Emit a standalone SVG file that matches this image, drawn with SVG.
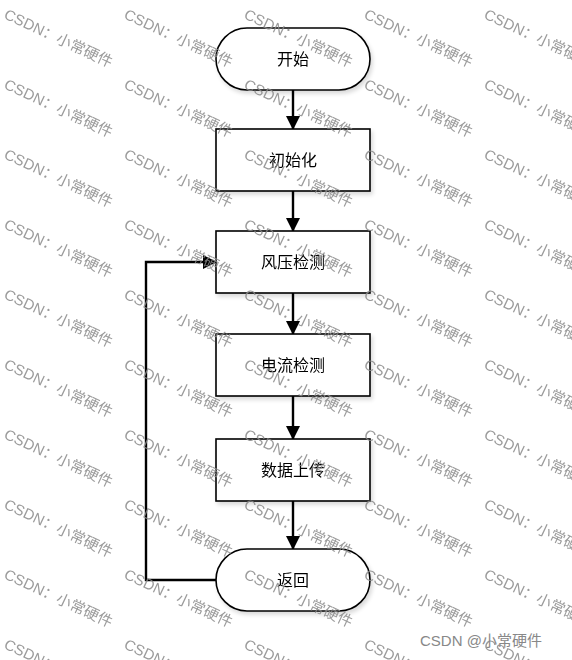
<svg xmlns="http://www.w3.org/2000/svg" xmlns:xlink="http://www.w3.org/1999/xlink" width="572" height="660" viewBox="0 0 572 660">
<style>
.n{fill:#fff;stroke:#000;stroke-width:1.6}
.t{font-family:"Liberation Sans","Noto Sans CJK SC",sans-serif;font-size:16px;fill:#000;text-anchor:middle;dominant-baseline:central}
.c{fill:none;stroke:#000;stroke-width:2.4}
.w{font-family:"Liberation Sans","Noto Sans CJK SC",sans-serif;font-size:15px;fill:#8a8a8a;opacity:0.85}
</style>
<defs>
<marker id="ah" markerWidth="14" markerHeight="14" viewBox="0 0 14 14" refX="13" refY="7" orient="auto" markerUnits="userSpaceOnUse">
<path d="M0,0 L14,7 L0,14 Z" fill="#000"/>
</marker>
<filter id="sh" x="-10%" y="-10%" width="130%" height="130%">
<feGaussianBlur in="SourceAlpha" stdDeviation="2"/>
<feOffset dx="2" dy="3"/>
<feComponentTransfer><feFuncA type="linear" slope="0.15"/></feComponentTransfer>
<feMerge><feMergeNode/><feMergeNode in="SourceGraphic"/></feMerge>
</filter>
<text id="wm" class="w" transform="rotate(25)">CSDN：小常硬件</text>
</defs>
<rect width="572" height="660" fill="#fff"/>
<g id="connectors">
<line class="c" x1="293" y1="90" x2="293" y2="129" marker-end="url(#ah)"/>
<line class="c" x1="293" y1="191" x2="293" y2="231" marker-end="url(#ah)"/>
<line class="c" x1="293" y1="293" x2="293" y2="334" marker-end="url(#ah)"/>
<line class="c" x1="293" y1="396" x2="293" y2="439" marker-end="url(#ah)"/>
<line class="c" x1="293" y1="501" x2="293" y2="549" marker-end="url(#ah)"/>
<polyline class="c" points="216,580 146,580 146,262 216,262" marker-end="url(#ah)"/>
</g>
<g id="start" filter="url(#sh)"><rect class="n" x="216" y="28" width="154" height="62" rx="31"/><text class="t" x="293" y="59">开始</text></g>
<g id="init" filter="url(#sh)"><rect class="n" x="216" y="129" width="154" height="62"/><text class="t" x="293" y="160">初始化</text></g>
<g id="wind" filter="url(#sh)"><rect class="n" x="216" y="231" width="154" height="62"/><text class="t" x="293" y="262">风压检测</text></g>
<g id="current" filter="url(#sh)"><rect class="n" x="216" y="334" width="154" height="62"/><text class="t" x="293" y="365">电流检测</text></g>
<g id="upload" filter="url(#sh)"><rect class="n" x="216" y="439" width="154" height="62"/><text class="t" x="293" y="470">数据上传</text></g>
<g id="return" filter="url(#sh)"><rect class="n" x="216" y="549" width="154" height="62" rx="31"/><text class="t" x="293" y="580">返回</text></g>
<g id="watermark">
<use xlink:href="#wm" x="3" y="18"/><use xlink:href="#wm" x="123" y="18"/><use xlink:href="#wm" x="243" y="18"/><use xlink:href="#wm" x="363" y="18"/><use xlink:href="#wm" x="483" y="18"/>
<use xlink:href="#wm" x="3" y="88"/><use xlink:href="#wm" x="123" y="88"/><use xlink:href="#wm" x="243" y="88"/><use xlink:href="#wm" x="363" y="88"/><use xlink:href="#wm" x="483" y="88"/>
<use xlink:href="#wm" x="3" y="158"/><use xlink:href="#wm" x="123" y="158"/><use xlink:href="#wm" x="243" y="158"/><use xlink:href="#wm" x="363" y="158"/><use xlink:href="#wm" x="483" y="158"/>
<use xlink:href="#wm" x="3" y="228"/><use xlink:href="#wm" x="123" y="228"/><use xlink:href="#wm" x="243" y="228"/><use xlink:href="#wm" x="363" y="228"/><use xlink:href="#wm" x="483" y="228"/>
<use xlink:href="#wm" x="3" y="298"/><use xlink:href="#wm" x="123" y="298"/><use xlink:href="#wm" x="243" y="298"/><use xlink:href="#wm" x="363" y="298"/><use xlink:href="#wm" x="483" y="298"/>
<use xlink:href="#wm" x="3" y="368"/><use xlink:href="#wm" x="123" y="368"/><use xlink:href="#wm" x="243" y="368"/><use xlink:href="#wm" x="363" y="368"/><use xlink:href="#wm" x="483" y="368"/>
<use xlink:href="#wm" x="3" y="438"/><use xlink:href="#wm" x="123" y="438"/><use xlink:href="#wm" x="243" y="438"/><use xlink:href="#wm" x="363" y="438"/><use xlink:href="#wm" x="483" y="438"/>
<use xlink:href="#wm" x="3" y="508"/><use xlink:href="#wm" x="123" y="508"/><use xlink:href="#wm" x="243" y="508"/><use xlink:href="#wm" x="363" y="508"/><use xlink:href="#wm" x="483" y="508"/>
<use xlink:href="#wm" x="3" y="578"/><use xlink:href="#wm" x="123" y="578"/><use xlink:href="#wm" x="243" y="578"/><use xlink:href="#wm" x="363" y="578"/><use xlink:href="#wm" x="483" y="578"/>
<use xlink:href="#wm" x="3" y="648"/><use xlink:href="#wm" x="123" y="648"/><use xlink:href="#wm" x="243" y="648"/><use xlink:href="#wm" x="363" y="648"/><use xlink:href="#wm" x="483" y="648"/>
</g>
<text x="420" y="646" style="font-family:'Liberation Sans','Noto Sans CJK SC',sans-serif;font-size:15px;fill:#888">CSDN @小常硬件</text>
</svg>
